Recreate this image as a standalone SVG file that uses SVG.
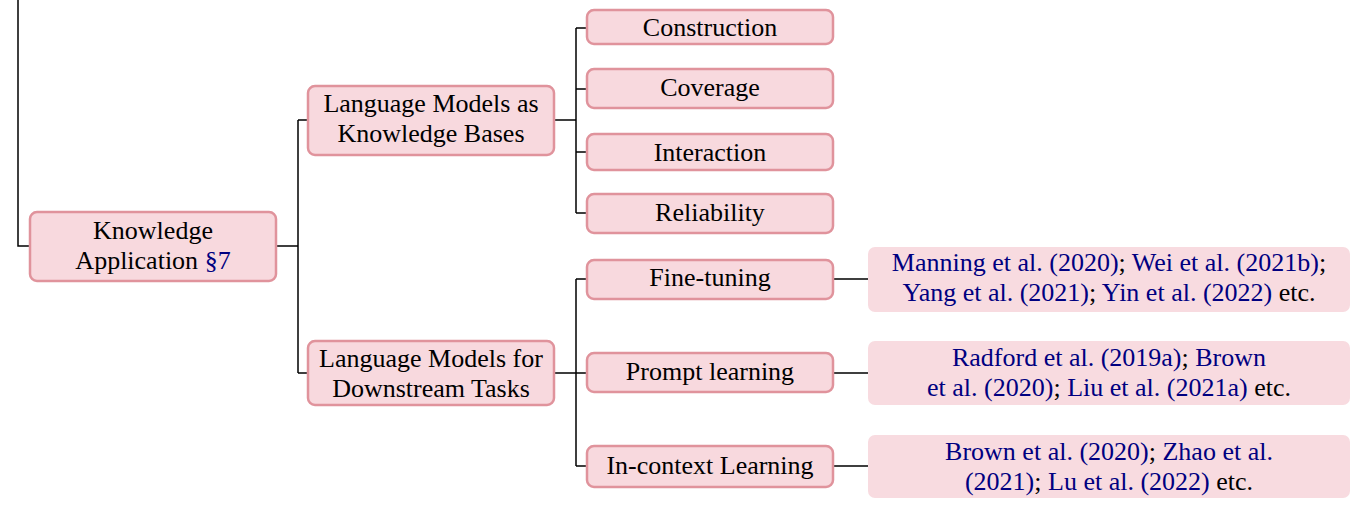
<svg xmlns="http://www.w3.org/2000/svg" width="1372" height="510" viewBox="0 0 1372 510">
<style>
.n{fill:#f8d9de;stroke:#e0939c;stroke-width:2.5}
.r{fill:#f8dbe0;stroke:none}
text{font-family:"Liberation Serif",serif;font-size:26px;text-anchor:middle;fill:#000}
.b{fill:#000080}
.c{fill:none;stroke:#000;stroke-width:1.5}
</style>
<rect width="1372" height="510" fill="#fff"/>
<g id="connectors">
<path class="c" d="M18 0V246H30M276 246H298M298 120V373M298 120H308M298 373H308M554 120H576M576 28V213M576 28H587M576 89H587M576 152H587M576 213H587M554 373H576M576 279V466M576 279H587M576 373H587M576 466H587M833 279H868M833 373H868M833 466H868"/>
</g>
<g id="ka"><rect class="n" x="30" y="212" width="246" height="69" rx="7"/><text x="153" y="239">Knowledge</text><text x="153" y="269">Application <tspan class="b">§7</tspan></text></g>
<g id="lmkb"><rect class="n" x="308" y="86" width="246" height="69" rx="7"/><text x="431" y="112">Language Models as</text><text x="431" y="142">Knowledge Bases</text></g>
<g id="lmdt"><rect class="n" x="308" y="341" width="246" height="64" rx="7"/><text x="431" y="367">Language Models for</text><text x="431" y="397">Downstream Tasks</text></g>
<g id="construction"><rect class="n" x="587" y="10" width="246" height="34" rx="7"/><text x="710" y="36">Construction</text></g>
<g id="coverage"><rect class="n" x="587" y="69" width="246" height="39" rx="7"/><text x="710" y="96">Coverage</text></g>
<g id="interaction"><rect class="n" x="587" y="134" width="246" height="36" rx="7"/><text x="710" y="161">Interaction</text></g>
<g id="reliability"><rect class="n" x="587" y="194" width="246" height="39" rx="7"/><text x="710" y="221">Reliability</text></g>
<g id="finetuning"><rect class="n" x="587" y="260" width="246" height="39" rx="7"/><text x="710" y="286">Fine-tuning</text></g>
<g id="prompt"><rect class="n" x="587" y="353" width="246" height="39" rx="7"/><text x="710" y="380">Prompt learning</text></g>
<g id="icl"><rect class="n" x="587" y="446" width="246" height="41" rx="7"/><text x="710" y="474">In-context Learning</text></g>
<g id="ref1"><rect class="r" x="868" y="247" width="482" height="65" rx="7"/><text x="1109" y="271"><tspan class="b">Manning et al. (2020)</tspan>; <tspan class="b">Wei et al. (2021b)</tspan>;</text><text x="1109" y="301"><tspan class="b">Yang et al. (2021)</tspan>; <tspan class="b">Yin et al. (2022)</tspan> etc.</text></g>
<g id="ref2"><rect class="r" x="868" y="341" width="482" height="64" rx="7"/><text x="1109" y="366"><tspan class="b">Radford et al. (2019a)</tspan>; <tspan class="b">Brown</tspan></text><text x="1109" y="396"><tspan class="b">et al. (2020)</tspan>; <tspan class="b">Liu et al. (2021a)</tspan> etc.</text></g>
<g id="ref3"><rect class="r" x="868" y="435" width="482" height="63" rx="7"/><text x="1109" y="460"><tspan class="b">Brown et al. (2020)</tspan>; <tspan class="b">Zhao et al.</tspan></text><text x="1109" y="490"><tspan class="b">(2021)</tspan>; <tspan class="b">Lu et al. (2022)</tspan> etc.</text></g>
</svg>
